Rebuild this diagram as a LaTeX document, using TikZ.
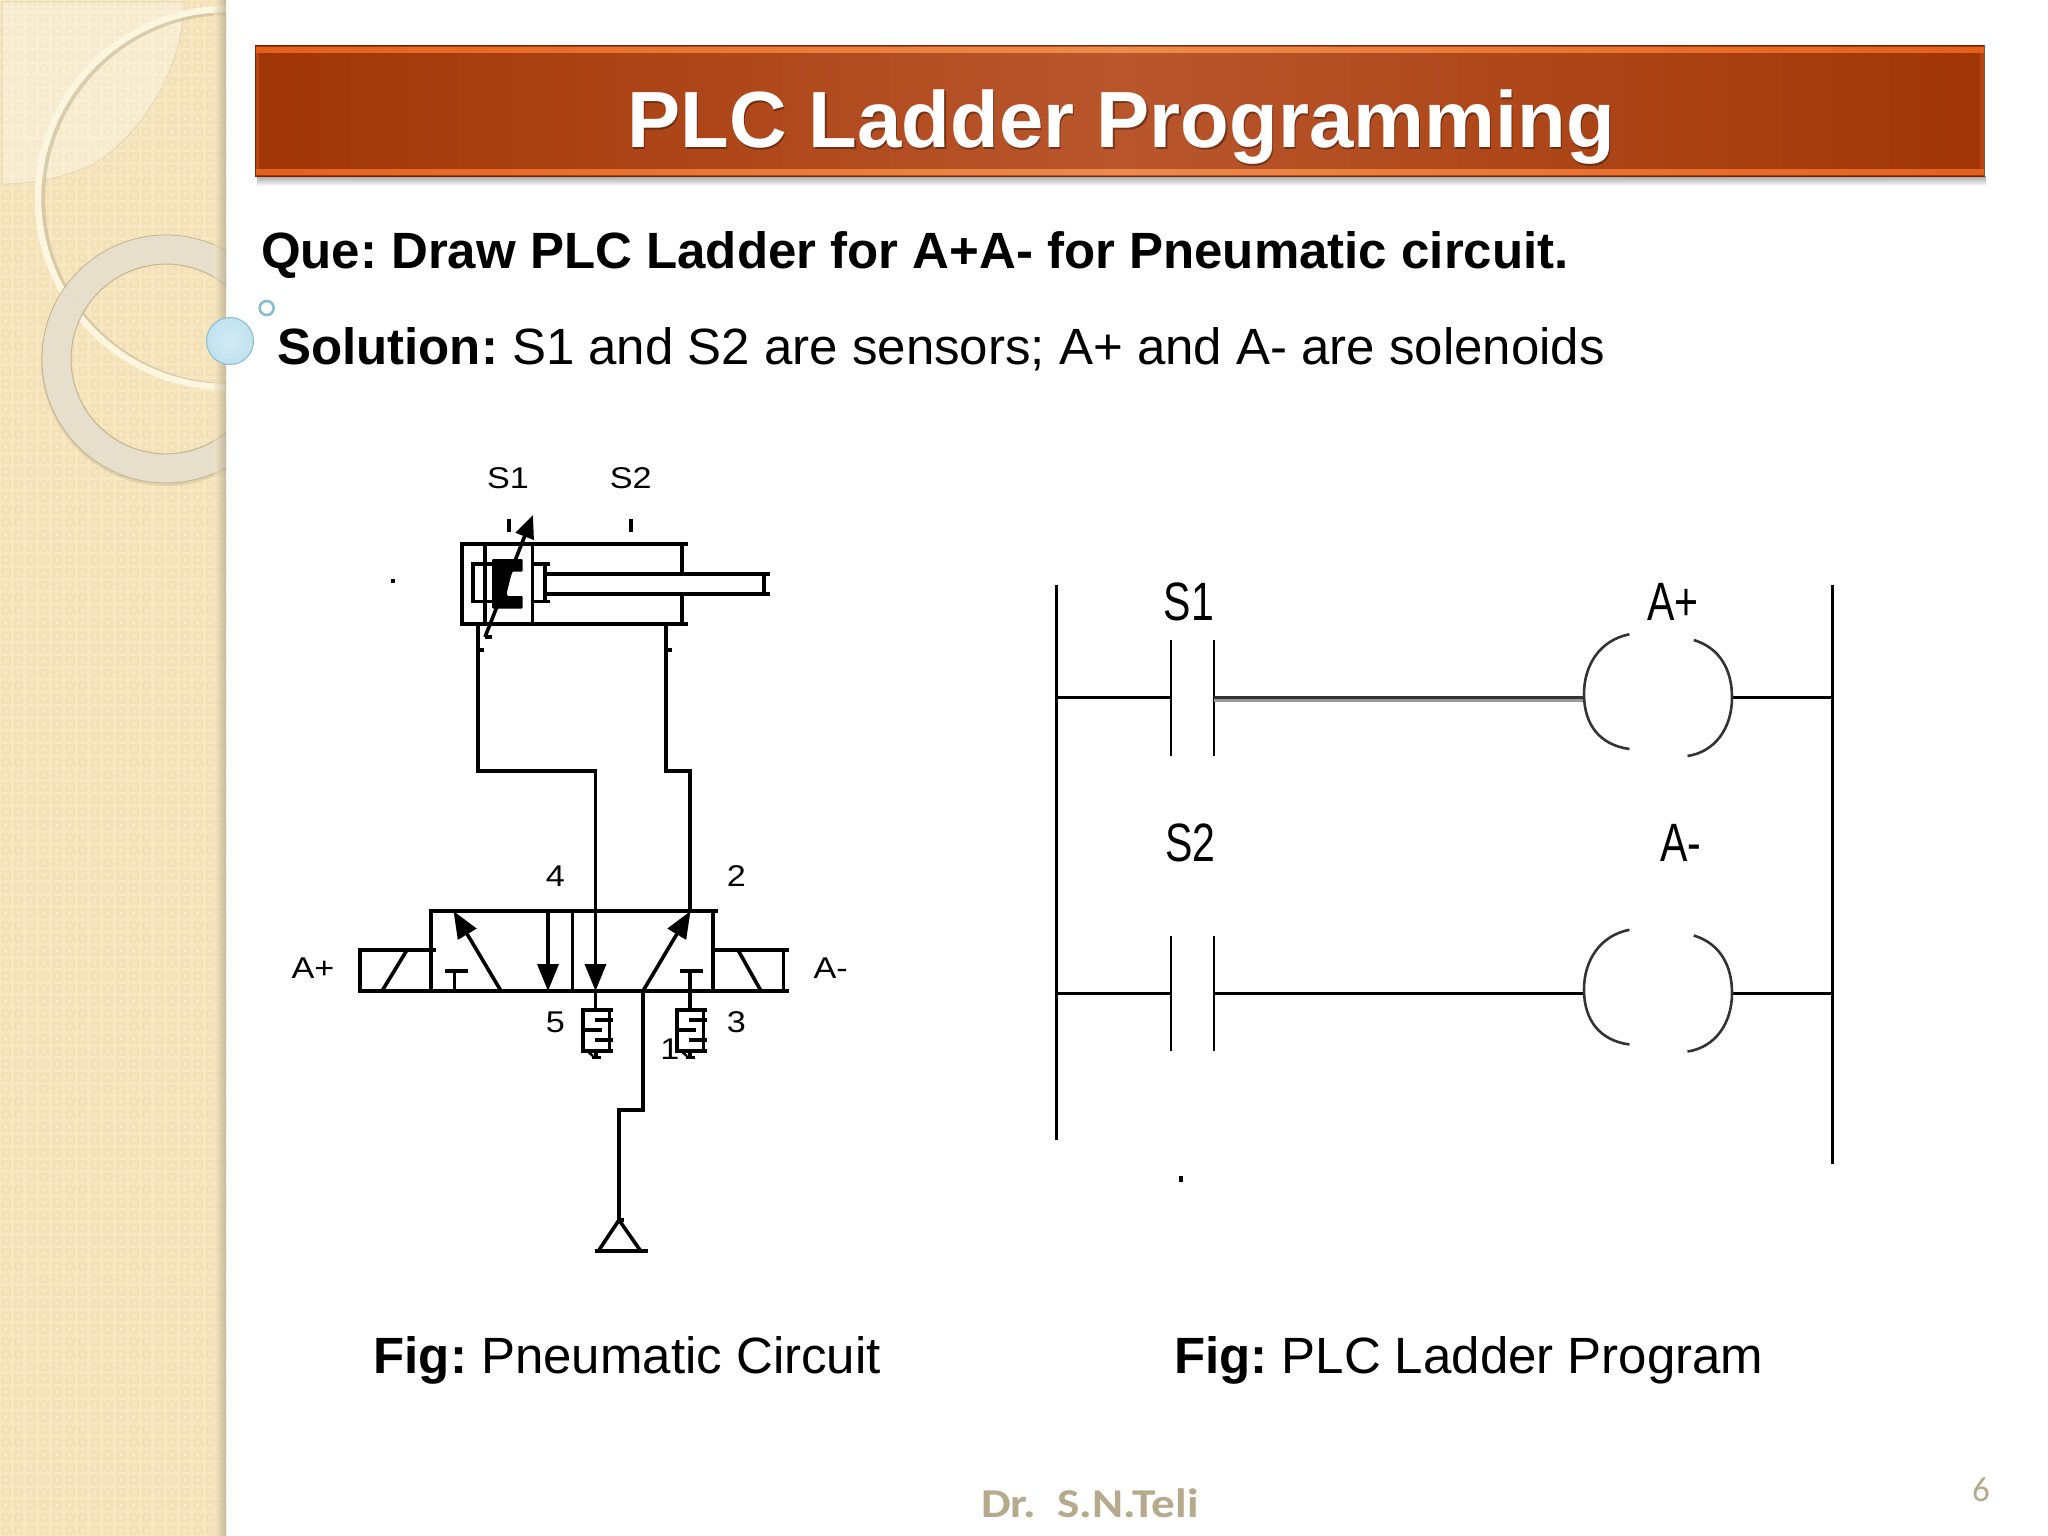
\documentclass[tikz,border=0pt]{standalone}
\usepackage{fontspec}
\usepackage{graphicx}
\setmainfont{Liberation Sans}
\newfontfamily\footfont{Carlito}
\usetikzlibrary{arrows.meta,calc}
\definecolor{panelbase}{HTML}{F8E7C3}
\definecolor{paneldark}{HTML}{F3E0B5}
\definecolor{panelmid}{HTML}{F6E4BD}
\definecolor{paneldot}{HTML}{FAEDD1}
\definecolor{barend}{HTML}{A03605}
\definecolor{barmid}{HTML}{B9562C}
\definecolor{barglow}{HTML}{E4601A}
\definecolor{barglowmid}{HTML}{EE8A4A}
\definecolor{ringcol}{HTML}{E7E0CD}
\definecolor{ringedge}{HTML}{C2B490}
\definecolor{arccol}{HTML}{FCF6E0}
\definecolor{footcol}{HTML}{B5AA8B}
\definecolor{bubcol}{HTML}{BFE2EE}
\definecolor{bubedge}{HTML}{86BECE}
\newcommand{\pxfont}[1]{\fontsize{#1}{#1}\selectfont}
\newcommand{\wide}[1]{\scalebox{1.14}[1]{#1}}
\newcommand{\narrow}[1]{\scalebox{.76}[1]{#1}}
\frenchspacing
\tikzset{
  pipe/.style={line width=3.6pt,black,line cap=butt,line join=miter},
  flow/.style={pipe,-{Stealth[length=27pt,width=21pt,inset=0pt]}},
  wire/.style={line width=3pt,black},
  rail/.style={line width=2.6pt,black},
  coilarc/.style={line width=2.6pt,black!80},
  lbl/.style={inner sep=0pt,outer sep=0pt},
  smalllbl/.style={lbl,font=\pxfont{30}},
  ladlbl/.style={lbl,font=\pxfont{54}},
  body/.style={lbl,anchor=base west,font=\pxfont{51}}
}
\begin{document}
\begin{tikzpicture}[x=1pt,y=-1pt]
\useasboundingbox (0,0) rectangle (2048,1536);
\fill[white] (0,0) rectangle (2048,1536);
% ---- left panel
\begin{scope}
\clip (0,0) rectangle (226,1536);
\fill[panelbase] (0,0) rectangle (226,1536);
\foreach \i in {0,...,17}{
  \foreach \j in {0,...,121}{
    \pgfmathsetmacro{\xa}{\i*12.8+1}
    \pgfmathsetmacro{\ya}{\j*12.6+1}
    \fill[paneldark] (\xa,\ya) rectangle ++(9.5,9.5);
    \fill[panelmid] (\xa+2.5,\ya+2.5) rectangle ++(4.5,4.5);
    \fill[paneldot] (\xa+4,\ya+4) rectangle ++(1.6,1.6);
  }
}
% leaf
\fill[white,opacity=.33] (2,2) -- (184,2) .. controls (184,60) and (150,125) .. (100,160) .. controls (70,178) and (30,184) .. (2,184) -- cycle;
\draw[ringedge,opacity=.35,line width=.8pt] (2,184) -- (2,2) -- (184,2) .. controls (184,60) and (150,125) .. (100,160) .. controls (70,178) and (30,184) .. (2,184);
% thin arc
\draw[ringedge,line width=4pt,opacity=.55] (229,199) circle[radius=186];
\draw[arccol,line width=6.5pt] (227,198) circle[radius=189];
% ring
\fill[ringedge,opacity=.4,even odd rule] (166,361) circle[radius=125] (166,359) circle[radius=94];
\fill[ringcol,opacity=.95,even odd rule] (166,359) circle[radius=124] (166,359) circle[radius=95];
\draw[ringedge,line width=.8pt] (166,359) circle[radius=124] (166,359) circle[radius=95];
% panel edge
\shade[left color=panelbase,right color=black!35!panelbase,opacity=.55] (214,0) rectangle (226,1536);
\end{scope}
% ---- bubbles
\shade[inner color=bubcol!70!white,outer color=bubcol,draw=bubedge,line width=1pt] (230,341) circle[radius=23.5];
\draw[bubedge,line width=2.6pt,fill=white] (266.7,308) circle[radius=7];
% ---- title bar
\shade[top color=black!35,bottom color=white] (257,176) rectangle (1986,186);
\shade[left color=barend,right color=barend,middle color=barmid] (255,46) rectangle (1984,176);
\shade[left color=barglow,right color=barglow,middle color=barglowmid] (255,48) rectangle (1984,53);
\shade[left color=barglow,right color=barglow,middle color=barglowmid] (255,169) rectangle (1984,174);
\fill[barglow,opacity=.35] (255,48) rectangle (259,174);
\fill[barglow,opacity=.35] (1980,48) rectangle (1984,174);
\draw[black!50!barend,line width=1pt,opacity=.7] (255,46) rectangle (1984,176);
\node[lbl,anchor=base,text=black,opacity=.35,font=\bfseries\pxfont{79.7}] (titleshadow) at (1122.5,149.5) {PLC Ladder Programming};
\node[lbl,anchor=base,text=white,font=\bfseries\pxfont{79.7}] (title) at (1121,147.5) {PLC Ladder Programming};
% ---- text
\node[body] (que) at (261,268) {\bfseries Que: Draw PLC Ladder for A+A- for Pneumatic circuit.};
\node[body] (sol) at (277,364) {\textbf{Solution:} S1 and S2 are sensors; A+ and A- are solenoids};
\node[body] (fig1) at (373.5,1373) {\textbf{Fig:} Pneumatic Circuit};
\node[body] (fig2) at (1174,1373) {\textbf{Fig:} PLC Ladder Program};
\node[lbl,anchor=center,text=footcol,font=\footfont\bfseries\pxfont{41}] (author) at (1090,1503) {\scalebox{1.15}[1]{Dr.\ \ S.N.Teli}};
\node[lbl,anchor=center,text=footcol,font=\footfont\pxfont{35}] (pageno) at (1981,1490) {6};
% ---- cylinder
\node[smalllbl] (s1t) at (508,478) {\wide{S1}};
\node[smalllbl] (s2t) at (630.7,478) {\wide{S2}};
\fill (391,579) rectangle (395,583);
\draw[pipe] (509,519) -- (509,532);
\draw[pipe] (631,519) -- (631,532);
\draw[pipe] (687.5,544) -- (462,544) -- (462,624) -- (687.5,624);
\draw[pipe] (682,544) -- (682,574);
\draw[pipe] (682,594) -- (682,624);
\draw[pipe] (485,544) -- (485,624);
\draw[pipe] (532.5,544) -- (532.5,624);
\draw[pipe] (495,564) -- (473,564) -- (473,601.5) -- (495,601.5);
\draw[pipe] (533,564) -- (549.5,564);
\draw[pipe] (533,601.5) -- (550,601.5);
\draw[pipe] (545,564) -- (545,601.5);
\draw[pipe] (546,574) -- (770,574);
\draw[pipe] (546,594) -- (770,594);
\draw[pipe] (764,574) -- (764,594);
\fill[black,rounded corners=1pt] (492,559) -- (522.5,559) -- (522.5,571.5) -- (512,571.5) -- (507,592) -- (507,596) -- (522.5,596) -- (522.5,608.5) -- (492,608.5) -- cycle;
\coordinate (sensfoot) at (485,637);
\coordinate (senstip) at (533,515);
\draw[pipe,-{Stealth[length=23pt,width=19pt,inset=0pt]}] (sensfoot) -- (senstip);
\draw[pipe] (sensfoot) -- ++(7,0);
% ---- tubes
\coordinate (cylA) at (478,624);
\coordinate (cylB) at (666,624);
\coordinate (port4) at (595.5,910.7);
\coordinate (port2) at (690,910.7);
\draw[pipe] (cylA) |- (595.5,770.7) -- (port4);
\draw[pipe] (cylB) |- (690,770.7) -- (port2);
\draw[pipe] (478,650) -- ++(6,0);
\draw[pipe] (666,650) -- ++(6,0);
% ---- valve
\node[smalllbl] (n4) at (555.5,876) {\wide{4}};
\node[smalllbl] (n2) at (736.5,876) {\wide{2}};
\node[smalllbl] (n5) at (555.5,1022.5) {\wide{5}};
\node[smalllbl] (n3) at (736.5,1022.5) {\wide{3}};
\node[smalllbl] (n1) at (670,1049) {\wide{1}};
\node[smalllbl] (nap) at (313,968.5) {\wide{A+}};
\node[smalllbl] (nam) at (830.6,968.5) {\wide{A-}};
\draw[pipe] (430.7,991) -- (430.7,910.7) -- (718,910.7);
\draw[pipe] (359.8,991) -- (359.8,950) -- (436,950);
\draw[pipe] (358.3,991) -- (789,991);
\draw[pipe] (572.3,910.7) -- (572.3,991);
\draw[pipe] (713,910.7) -- (713,991);
\draw[pipe] (713,950) -- (789,950);
\draw[pipe] (783.6,950) -- (783.6,991);
\draw[pipe] (382,991) -- (407,950);
\draw[pipe] (738,950) -- (761,991);
\draw[pipe] (454.5,991) -- (454.5,970.7);
\draw[pipe] (445,970.7) -- (468,970.7);
\draw[pipe] (680,970.7) -- (703,970.7);
\draw[flow] (501,991) -- (453.5,911);
\draw[flow] (548,910.7) -- (548,991);
\draw[flow] (port4) -- (595.5,991);
\draw[flow] (643,991) -- (690.5,911);
% ---- silencers
\foreach \dx/\nm in {0/five,94/three}{
  \begin{scope}[xshift=\dx pt]
  \draw[pipe] (595.7,1010) -- (582.7,1010) -- (582.7,1050.7) -- (612.7,1050.7);
  \draw[pipe] (595.7,1010) -- (612.7,1010);
  \draw[pipe] (609.3,1010) -- (609.3,1050.7);
  \draw[pipe] (595,1020) -- (612.7,1020);
  \draw[pipe] (582.7,1030) -- (601.7,1030);
  \draw[pipe] (595,1040) -- (612.7,1040);
  \draw[pipe] (596,1050) -- (596,1057.5);
  \draw[pipe] (592,1057.5) -- (600.7,1057.5);
  \draw[line width=2.4pt] (587,1051) -- (593,1056);
  \end{scope}
}
\draw[pipe] (595.5,991) -- (595.5,1010);
\draw[pipe] (690,970.7) -- (690,1010);
% ---- supply
\coordinate (supply) at (643,991);
\coordinate (apex) at (619,1220);
\draw[pipe] (supply) -- (643,1110) -- (619,1110) -- (apex);
\draw[pipe] (599,1250) -- (apex) -- (640,1250);
\draw[pipe] (594.5,1250.7) -- (648,1250.7);
\draw[pipe] (619,1220) -- ++(5,0);
% ---- ladder
\coordinate (l1) at (1056.2,697.5);
\coordinate (r1) at (1832.4,697.5);
\coordinate (l2) at (1056.2,993);
\coordinate (r2) at (1832.4,993);
\coordinate (c1a) at (1170.8,697.5);
\coordinate (c1b) at (1214,697.5);
\coordinate (c2a) at (1170.8,993);
\coordinate (c2b) at (1214,993);
\coordinate (k1a) at (1584,697.5);
\coordinate (k1b) at (1732,697.5);
\coordinate (k2a) at (1584,993);
\coordinate (k2b) at (1732,993);
\draw[rail] (1056.2,584.5) -- (1056.2,1140);
\draw[rail] (1832.4,584.5) -- (1832.4,1163.5);
\draw[rail] (1170.8,640) -- (1170.8,755.7);
\draw[rail] (1214,640) -- (1214,755.7);
\draw[rail] (1170.8,935.5) -- (1170.8,1051);
\draw[rail] (1214,935.5) -- (1214,1051);
\draw[wire] (l1) -- (c1a);
\draw[line width=3pt,black!40] ($(c1b)+(0,2.5)$) -- ($(k1a)+(0,2.5)$);
\draw[wire,black!80] (c1b) -- (k1a);
\draw[wire] (k1b) -- (r1);
\draw[wire] (l2) -- (c2a);
\draw[wire] (c2b) -- (k2a);
\draw[wire] (k2b) -- (r2);
\foreach \n/\dy in {1/0,2/295.5}{
  \begin{scope}[yshift=-\dy pt]
  \draw[coilarc] (1629.4,634.3) .. controls (1600,640) and (1584,665) .. (1584,694) .. controls (1584,725) and (1600,745) .. (1629.4,749);
  \draw[coilarc] (1693.8,640) .. controls (1720,648) and (1732,670) .. (1732,697.5) .. controls (1732,728) and (1715,752) .. (1687.5,756);
  \end{scope}
}
\node[ladlbl] (ls1) at (1189,601.5) {\narrow{S1}};
\node[ladlbl] (ls2) at (1190.6,842.6) {\narrow{S2}};
\node[ladlbl] (lap) at (1672.8,601.5) {\narrow{A+}};
\node[ladlbl] (lam) at (1680.7,842.6) {\narrow{A-}};
\fill (1178.5,1175.5) rectangle (1183,1182);
\end{tikzpicture}
\end{document}
